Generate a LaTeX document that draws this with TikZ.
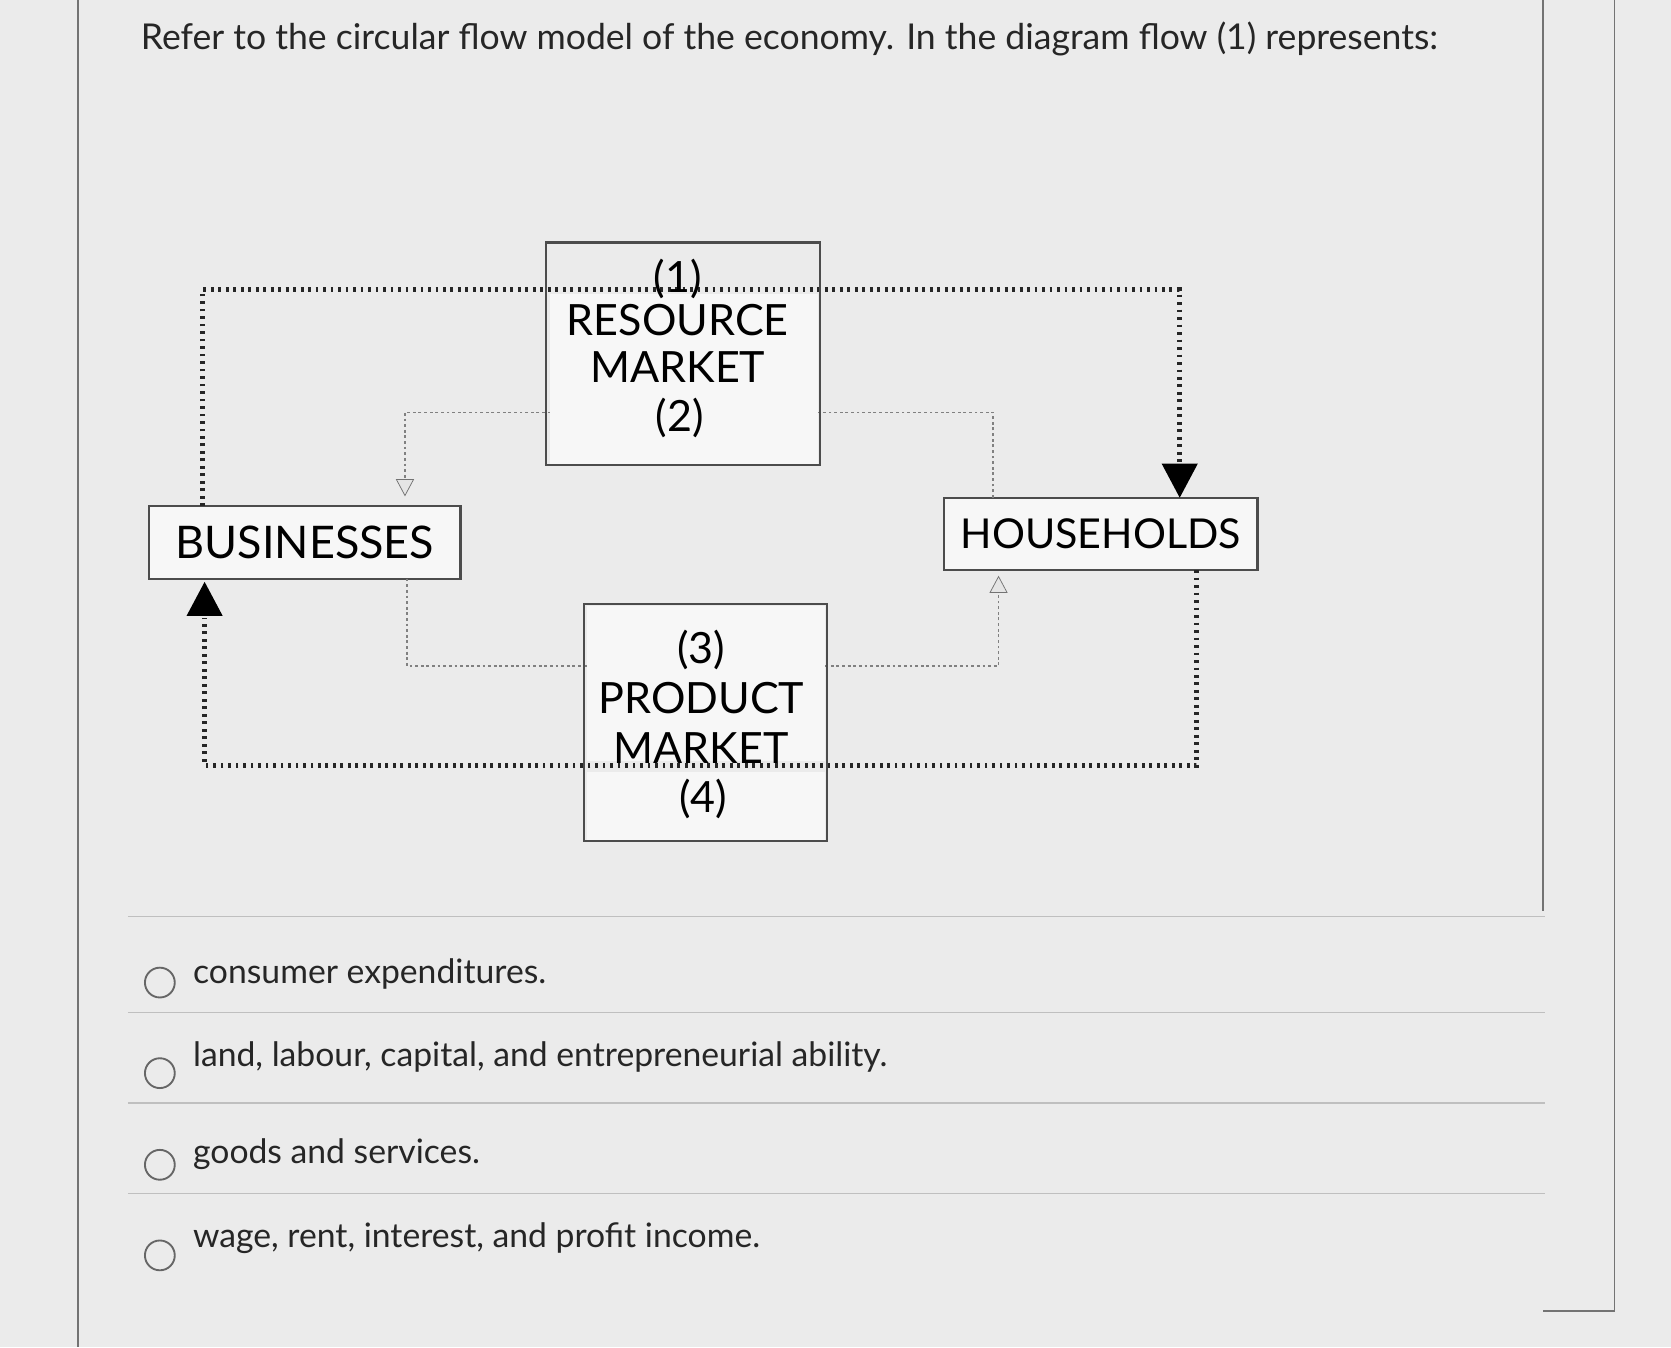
\documentclass[tikz,border=0pt]{standalone}
\usepackage{fontspec}
\setmainfont{Lato}
\usetikzlibrary{arrows.meta}
\begin{document}
\begin{tikzpicture}[x=0.02cm,y=-0.02cm,
  box/.style={draw=black!70,line width=1.2pt,fill=black!3,inner sep=0,font=\fontsize{22}{26}\selectfont},
  lab/.style={font=\fontsize{23}{27}\selectfont},
  thick dot/.style={line width=2.6pt,dash pattern=on 1.5pt off 2.5pt,black!85},
  thin dot/.style={line width=0.8pt,dash pattern=on 1.5pt off 1.5pt,black!50},
  opt/.style={anchor=west,font=\fontsize{18}{21}\selectfont,text=black!85},
  radio/.style={draw=black!60,line width=1pt,circle,minimum size=0.56cm,inner sep=0}]
\useasboundingbox (0,0) rectangle (1568,1264);
\fill[black!8] (0,0) rectangle (1568,1264);
\draw[black!55,line width=1pt] (73,-5) -- (73,1264);
\draw[black!55,line width=1pt] (1448,-5) -- (1448,855) (1448,1230) -- (1515,1230) -- (1515,-5);
\node[anchor=west,font=\fontsize{19}{22}\selectfont,text=black!85] (title) at (126,37) {Refer to the circular flow model of the economy. In the diagram flow (1) represents:};

\coordinate (t1) at (190,272); \coordinate (t2) at (1107,272);
\coordinate (b1) at (1123,718); \coordinate (b2) at (192,718);
\coordinate (i1) at (932,387); \coordinate (i2) at (380,387);
\coordinate (j1) at (382,625); \coordinate (j2) at (937,625);

\node[box,minimum width=292*0.02cm,minimum height=68*0.02cm,font=\fontsize{24}{28}\selectfont] (bus) at (286,509) {BUSINESSES};
\node[box,minimum width=294*0.02cm,minimum height=68*0.02cm] (hh) at (1033,501) {HOUSEHOLDS};

\draw[thick dot] (190,475) -- (t1) -- (t2) -- (1107,440);
\fill[black] (1090,435) -- (1124,435) -- (1107,467) -- cycle;
\draw[thick dot] (1123,535) -- (b1) -- (b2) -- (192,580);
\fill[black] (175,578) -- (209,578) -- (192,546) -- cycle;
\draw[thin dot] (932,467) -- (i1) -- (i2) -- (380,450);
\draw[black!55,fill=black!10] (372,450) -- (388,450) -- (380,465) -- cycle;
\draw[thin dot] (382,543) -- (j1) -- (j2) -- (937,556);
\draw[black!55,fill=black!10] (929,556) -- (945,556) -- (937,541) -- cycle;

\node[box,minimum width=257*0.02cm,minimum height=209*0.02cm,fill=none] (rm) at (641,332) {};
\node[box,minimum width=228*0.02cm,minimum height=223*0.02cm,fill=none] (pm) at (662,678) {};
\fill[black!3] (516,276) rectangle (768,435);
\fill[black!3] (551,569) rectangle (774,714);
\fill[black!3] (551,724) rectangle (774,788);
\node[lab] (n1) at (636,262) {(1)};
\node[lab] (rm1) at (636,300) {RESOURCE};
\node[lab] (rm2) at (636,344) {MARKET};
\node[lab] (n2) at (638,392) {(2)};
\node[lab] (n3) at (658,610) {(3)};
\node[lab] (pm1) at (658,655) {PRODUCT};
\node[lab] (pm2) at (658,702) {MARKET};
\node[lab] (n4) at (660,750) {(4)};

\foreach \y in {860,950,1035,1120}{\draw[black!25,line width=0.8pt] (120,\y) -- (1450,\y);}
\node[radio] (r1) at (150,922) {}; \node[opt] (a1) at (175,914) {consumer expenditures.};
\node[radio] (r2) at (150,1007) {}; \node[opt] (a2) at (175,992) {land, labour, capital, and entrepreneurial ability.};
\node[radio] (r3) at (150,1093) {}; \node[opt] (a3) at (175,1083) {goods and services.};
\node[radio] (r4) at (150,1178) {}; \node[opt] (a4) at (175,1162) {wage, rent, interest, and profit income.};
\end{tikzpicture}
\end{document}
